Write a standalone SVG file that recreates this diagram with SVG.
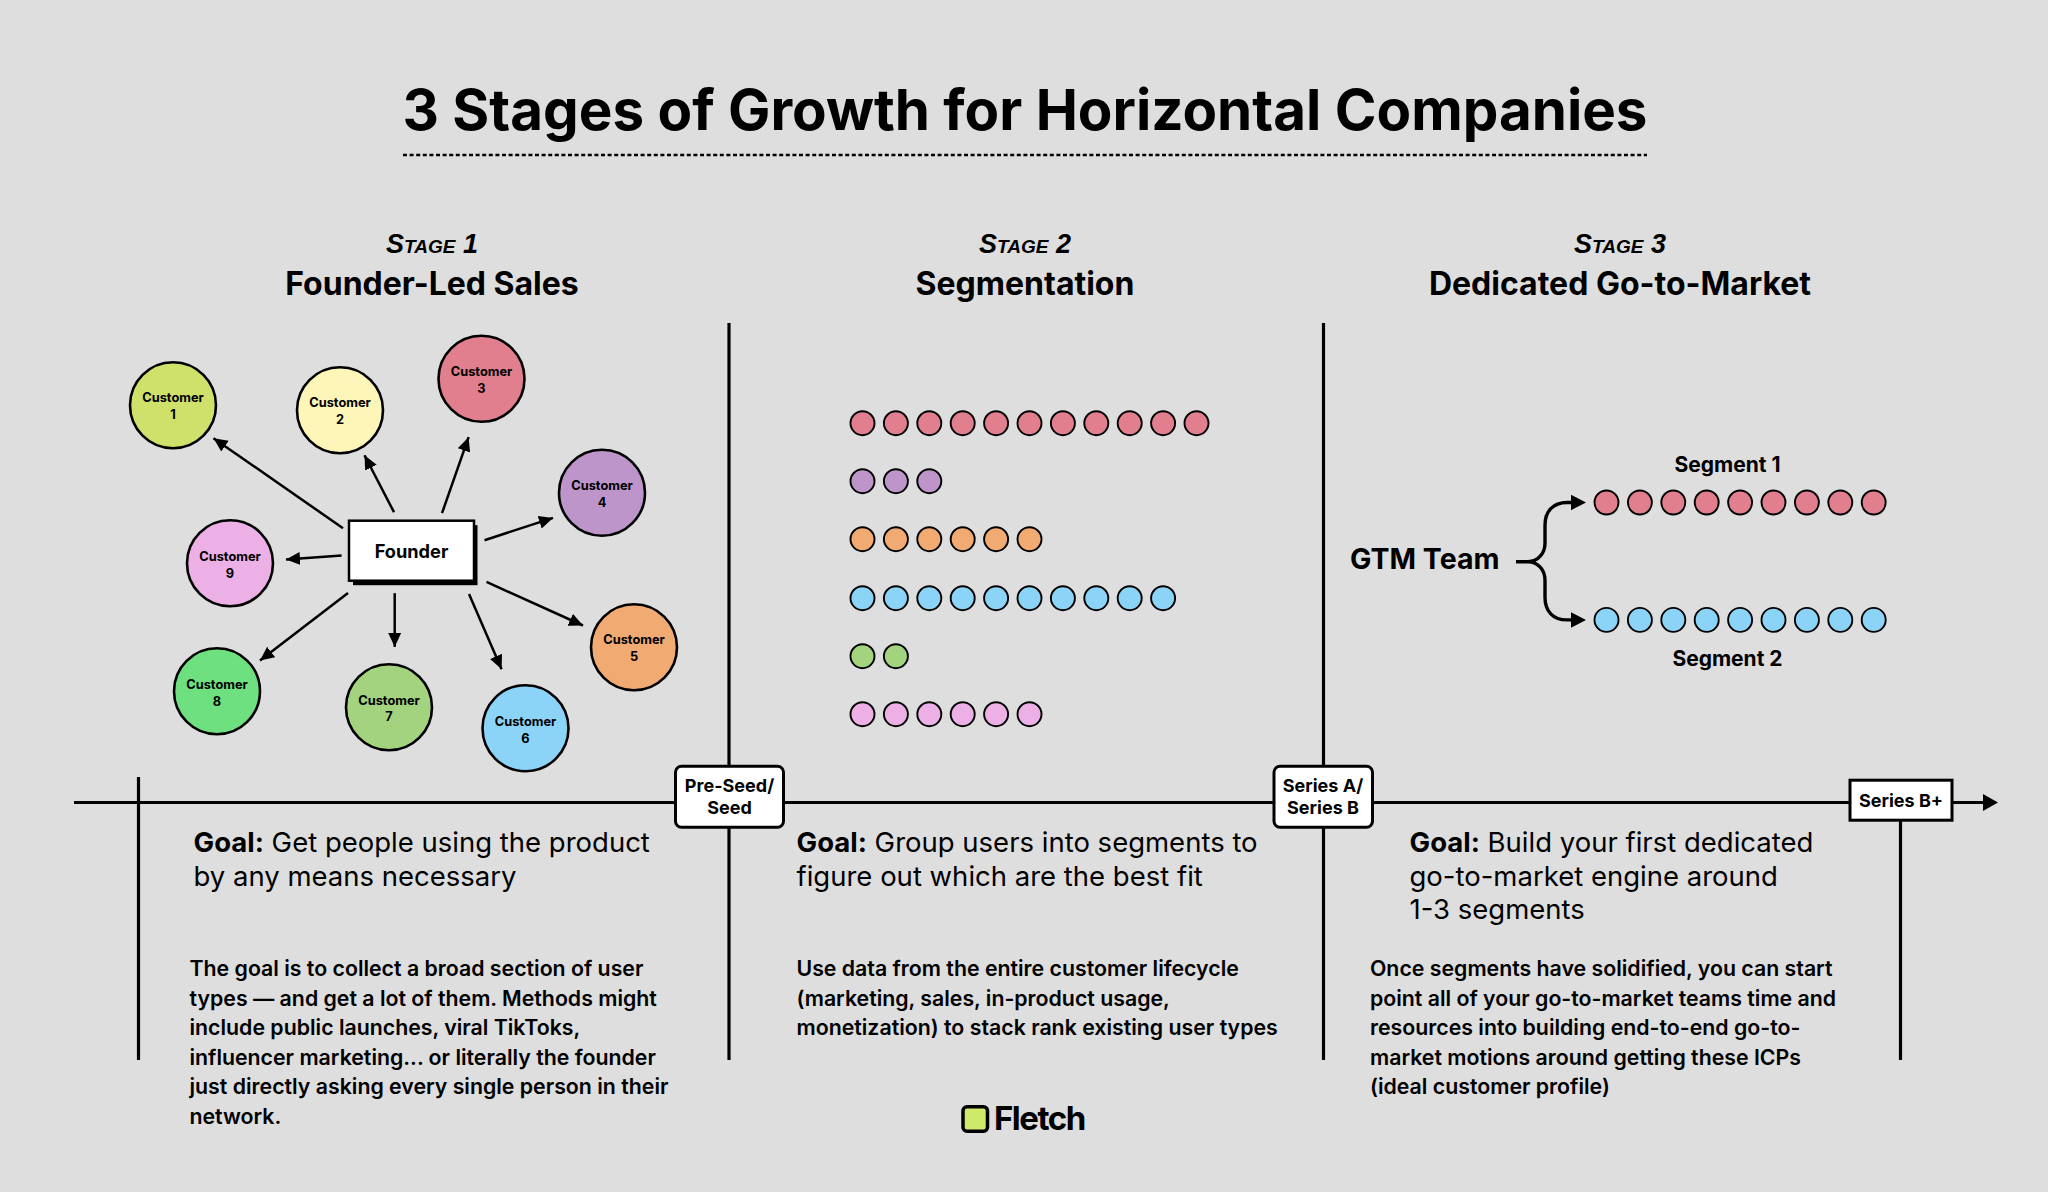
<svg xmlns="http://www.w3.org/2000/svg" width="2048" height="1192" viewBox="0 0 2048 1192">
<style>
text{font-family:Inter,"Noto Sans","Liberation Sans",sans-serif;fill:#000}
.title{font-size:56.500px;font-weight:700;text-anchor:middle}
.stage{font-family:"Liberation Sans",sans-serif;font-size:27px;font-weight:700;font-style:italic;font-variant:small-caps;text-anchor:middle}
.head{font-size:32px;font-weight:700;text-anchor:middle}
.c{stroke:#000;stroke-width:2.600}
.d{stroke:#000;stroke-width:1.900}
.ct{font-size:12.800px;font-weight:700;text-anchor:middle}
.goal{font-size:27.500px;font-weight:400}
.goal tspan.b{font-weight:700}
.body{font-size:21.300px;font-weight:600}
.box{fill:#fff;stroke:#000;stroke-width:3}
.tag{font-size:18px;font-weight:700;text-anchor:middle}
.seg{font-size:21px;font-weight:700;text-anchor:middle}
.ln{stroke:#000;stroke-width:3.200;fill:none}
.ar{stroke:#000;stroke-width:2.500;fill:none;marker-end:url(#ah)}
.red{fill:#e27f8e}.pur{fill:#bd95ca}.org{fill:#f0aa72}.blu{fill:#8cd4f7}.grn{fill:#a3d37f}.pnk{fill:#ecb0e6}
</style>
<defs>
<marker id="ah" markerUnits="userSpaceOnUse" markerWidth="16" markerHeight="14" refX="14" refY="6.500" orient="auto"><path d="M0 0L14 6.500L0 13Z" fill="#000"/></marker>
</defs>
<rect width="2048" height="1192" fill="#dedede"/>
<g id="header">
<text class="title" x="1025" y="130">3 Stages of Growth for Horizontal Companies</text>
<line x1="403" y1="155" x2="1647" y2="155" stroke="#000" stroke-width="2.400" stroke-dasharray="4 2.600"/>
<text class="stage" x="432" y="253">Stage 1</text>
<text class="head" x="432" y="295">Founder-Led Sales</text>
<text class="stage" x="1025" y="253">Stage 2</text>
<text class="head" x="1025" y="295">Segmentation</text>
<text class="stage" x="1620" y="253">Stage 3</text>
<text class="head" x="1620" y="295">Dedicated Go-to-Market</text>
</g>
<g id="connectors">
<line class="ln" x1="729" y1="323" x2="729" y2="1060"/>
<line class="ln" x1="1323.500" y1="323" x2="1323.500" y2="1060"/>
<line class="ln" x1="138.500" y1="777" x2="138.500" y2="1060"/>
<line class="ln" x1="1900.500" y1="819" x2="1900.500" y2="1060"/>
<line class="ln" x1="74" y1="802.500" x2="1985" y2="802.500"/>
<path d="M1983 794L1998 802.500L1983 811Z" fill="#000"/>
<g transform="translate(0,1.200)">
<path class="ar" d="M343 527L213.500 437"/>
<path class="ar" d="M394 511L364.500 454"/>
<path class="ar" d="M442 512L468.600 436"/>
<path class="ar" d="M484.500 539L553 516.700"/>
<path class="ar" d="M486.500 580.700L583 624.300"/>
<path class="ar" d="M469 592.700L501.600 668"/>
<path class="ar" d="M394.700 592L394.700 645.700"/>
<path class="ar" d="M348 591.700L260 659.300"/>
<path class="ar" d="M341.600 554.300L286 558.300"/>
<path d="M1516 560.500H1528C1538 560.500 1545 552 1545 542V524C1545 510 1553 501.300 1567 501.300H1575M1528 560.500C1538 560.500 1545 569 1545 579V596C1545 610 1553 618.700 1567 618.700H1575" fill="none" stroke="#000" stroke-width="3.400"/>
<path d="M1571 493.500L1586 501.300L1571 509ZM1571 611L1586 618.700L1571 626.500Z" fill="#000"/>
</g>
</g>
<g transform="translate(0,1.200)">
<g id="customer1"><circle class="c" cx="173" cy="404" r="43" fill="#cfe06b"/><text class="ct" x="173" y="401">Customer</text><text class="ct" x="173" y="417.500">1</text></g>
<g id="customer2"><circle class="c" cx="340" cy="409" r="43" fill="#fdf6b8"/><text class="ct" x="340" y="406">Customer</text><text class="ct" x="340" y="422.500">2</text></g>
<g id="customer3"><circle class="c" cx="481.500" cy="377.500" r="43" fill="#e27f8e"/><text class="ct" x="481.500" y="375">Customer</text><text class="ct" x="481.500" y="391.500">3</text></g>
<g id="customer4"><circle class="c" cx="602" cy="491.500" r="43" fill="#bd95ca"/><text class="ct" x="602" y="489">Customer</text><text class="ct" x="602" y="505.500">4</text></g>
<g id="customer5"><circle class="c" cx="634" cy="646" r="43" fill="#f0aa72"/><text class="ct" x="634" y="643">Customer</text><text class="ct" x="634" y="659.500">5</text></g>
<g id="customer6"><circle class="c" cx="525.500" cy="727" r="43" fill="#8cd4f7"/><text class="ct" x="525.500" y="725">Customer</text><text class="ct" x="525.500" y="741.500">6</text></g>
<g id="customer7"><circle class="c" cx="389" cy="706" r="43" fill="#a3d37f"/><text class="ct" x="389" y="703.500">Customer</text><text class="ct" x="389" y="720">7</text></g>
<g id="customer8"><circle class="c" cx="217" cy="690" r="43" fill="#6ee07f"/><text class="ct" x="217" y="688">Customer</text><text class="ct" x="217" y="704.500">8</text></g>
<g id="customer9"><circle class="c" cx="230" cy="562" r="43" fill="#ecb0e6"/><text class="ct" x="230" y="560">Customer</text><text class="ct" x="230" y="576.500">9</text></g>
<g id="founder"><rect x="353" y="524" width="124.500" height="60" fill="#000"/><rect x="349" y="519.500" width="125" height="60" fill="#fff" stroke="#000" stroke-width="2.500"/><text x="411.500" y="557" font-size="18.200" font-weight="700" text-anchor="middle">Founder</text></g>
<g id="stage2-dots">
<g class="red" id="row1"><circle class="d" cx="862.500" cy="422" r="12"/><circle class="d" cx="895.900" cy="422" r="12"/><circle class="d" cx="929.300" cy="422" r="12"/><circle class="d" cx="962.700" cy="422" r="12"/><circle class="d" cx="996.100" cy="422" r="12"/><circle class="d" cx="1029.500" cy="422" r="12"/><circle class="d" cx="1062.900" cy="422" r="12"/><circle class="d" cx="1096.300" cy="422" r="12"/><circle class="d" cx="1129.700" cy="422" r="12"/><circle class="d" cx="1163.100" cy="422" r="12"/><circle class="d" cx="1196.500" cy="422" r="12"/></g>
<g class="pur" id="row2"><circle class="d" cx="862.500" cy="480" r="12"/><circle class="d" cx="895.900" cy="480" r="12"/><circle class="d" cx="929.300" cy="480" r="12"/></g>
<g class="org" id="row3"><circle class="d" cx="862.500" cy="538" r="12"/><circle class="d" cx="895.900" cy="538" r="12"/><circle class="d" cx="929.300" cy="538" r="12"/><circle class="d" cx="962.700" cy="538" r="12"/><circle class="d" cx="996.100" cy="538" r="12"/><circle class="d" cx="1029.500" cy="538" r="12"/></g>
<g class="blu" id="row4"><circle class="d" cx="862.500" cy="597" r="12"/><circle class="d" cx="895.900" cy="597" r="12"/><circle class="d" cx="929.300" cy="597" r="12"/><circle class="d" cx="962.700" cy="597" r="12"/><circle class="d" cx="996.100" cy="597" r="12"/><circle class="d" cx="1029.500" cy="597" r="12"/><circle class="d" cx="1062.900" cy="597" r="12"/><circle class="d" cx="1096.300" cy="597" r="12"/><circle class="d" cx="1129.700" cy="597" r="12"/><circle class="d" cx="1163.100" cy="597" r="12"/></g>
<g class="grn" id="row5"><circle class="d" cx="862.500" cy="655" r="12"/><circle class="d" cx="895.900" cy="655" r="12"/></g>
<g class="pnk" id="row6"><circle class="d" cx="862.500" cy="713" r="12"/><circle class="d" cx="895.900" cy="713" r="12"/><circle class="d" cx="929.300" cy="713" r="12"/><circle class="d" cx="962.700" cy="713" r="12"/><circle class="d" cx="996.100" cy="713" r="12"/><circle class="d" cx="1029.500" cy="713" r="12"/></g>
</g>
<g id="stage3">
<text x="1350" y="568" font-size="28.500" font-weight="700">GTM Team</text>
<text class="seg" x="1727.500" y="471">Segment 1</text>
<text class="seg" x="1727.500" y="664.500">Segment 2</text>
<g class="red" id="segment1"><circle class="d" cx="1606.500" cy="501.300" r="12"/><circle class="d" cx="1639.900" cy="501.300" r="12"/><circle class="d" cx="1673.300" cy="501.300" r="12"/><circle class="d" cx="1706.700" cy="501.300" r="12"/><circle class="d" cx="1740.100" cy="501.300" r="12"/><circle class="d" cx="1773.500" cy="501.300" r="12"/><circle class="d" cx="1806.900" cy="501.300" r="12"/><circle class="d" cx="1840.300" cy="501.300" r="12"/><circle class="d" cx="1873.700" cy="501.300" r="12"/></g>
<g class="blu" id="segment2"><circle class="d" cx="1606.500" cy="618.700" r="12"/><circle class="d" cx="1639.900" cy="618.700" r="12"/><circle class="d" cx="1673.300" cy="618.700" r="12"/><circle class="d" cx="1706.700" cy="618.700" r="12"/><circle class="d" cx="1740.100" cy="618.700" r="12"/><circle class="d" cx="1773.500" cy="618.700" r="12"/><circle class="d" cx="1806.900" cy="618.700" r="12"/><circle class="d" cx="1840.300" cy="618.700" r="12"/><circle class="d" cx="1873.700" cy="618.700" r="12"/></g>
</g>
<g id="preseed"><rect class="box" x="675.500" y="765" width="108" height="61" rx="6"/><text class="tag" x="729.500" y="791">Pre-Seed/</text><text class="tag" x="729.500" y="813">Seed</text></g>
<g id="seriesa"><rect class="box" x="1274" y="765" width="98.500" height="61" rx="6"/><text class="tag" x="1323" y="791">Series A/</text><text class="tag" x="1323" y="813">Series B</text></g>
<g id="seriesb"><rect class="box" x="1850" y="779" width="102" height="40"/><text class="tag" x="1901" y="806">Series B+</text></g>
<g id="goals">
<text class="goal" x="193.500" y="851"><tspan class="b">Goal:</tspan> Get people using the product</text>
<text class="goal" x="193.500" y="884.500">by any means necessary</text>
<text class="goal" x="796.500" y="851"><tspan class="b">Goal:</tspan> Group users into segments to</text>
<text class="goal" x="796.500" y="884.500">figure out which are the best fit</text>
<text class="goal" x="1409.500" y="851"><tspan class="b">Goal:</tspan> Build your first dedicated</text>
<text class="goal" x="1409.500" y="884.500">go-to-market engine around</text>
<text class="goal" x="1409.500" y="918">1-3 segments</text>
</g>
<g id="bodies">
<text class="body" x="189.500" y="975">The goal is to collect a broad section of user</text>
<text class="body" x="189.500" y="1004.500">types — and get a lot of them. Methods might</text>
<text class="body" x="189.500" y="1034">include public launches, viral TikToks,</text>
<text class="body" x="189.500" y="1063.500">influencer marketing... or literally the founder</text>
<text class="body" x="189.500" y="1093">just directly asking every single person in their</text>
<text class="body" x="189.500" y="1122.500">network.</text>
<text class="body" x="796.500" y="975">Use data from the entire customer lifecycle</text>
<text class="body" x="796.500" y="1004.500">(marketing, sales, in-product usage,</text>
<text class="body" x="796.500" y="1034">monetization) to stack rank existing user types</text>
<text class="body" x="1370" y="975">Once segments have solidified, you can start</text>
<text class="body" x="1370" y="1004.500">point all of your go-to-market teams time and</text>
<text class="body" x="1370" y="1034">resources into building end-to-end go-to-</text>
<text class="body" x="1370" y="1063.500">market motions around getting these ICPs</text>
<text class="body" x="1370" y="1093">(ideal customer profile)</text>
</g>
<g id="logo"><rect x="963" y="1105.500" width="24.500" height="24.500" rx="4" fill="#cfe96b" stroke="#000" stroke-width="3.500"/><text x="994" y="1129" font-size="33" font-weight="700" letter-spacing="-1.500">Fletch</text></g>
</g>
</svg>
